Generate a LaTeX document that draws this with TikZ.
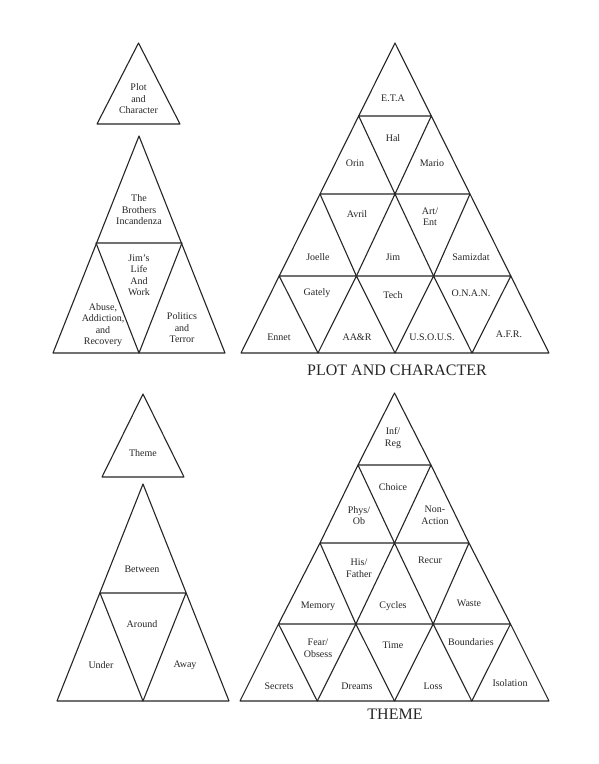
\documentclass[tikz,border=0pt]{standalone}
\usepackage{fontspec}
\setmainfont{Liberation Serif}
\begin{document}
\begin{tikzpicture}[x=1pt,y=-1pt,
  edge/.style={draw=black!85,line width=1.1pt,line join=round},
  lbl/.style={font=\fontsize{10}{11.5}\selectfont,align=center,inner sep=0pt,text=black!85},
  title/.style={font=\fontsize{16}{18}\selectfont,inner sep=0pt,text=black!85}]
\useasboundingbox[fill=white] (0,0) rectangle (598,764);

% ---------- left: plot and character ----------
\draw[edge] (138.5,43) -- (180,124) -- (97,124) -- cycle;
\node[lbl] (pc) at (138.5,99) {Plot\\and\\Character};

\coordinate (L1a) at (139,136);
\coordinate (L1b) at (96,243);
\coordinate (L1c) at (182,243);
\coordinate (L1d) at (53,353);
\coordinate (L1e) at (139,353);
\coordinate (L1f) at (225,353);
\draw[edge] (L1a) -- (L1f) -- (L1d) -- cycle;
\draw[edge] (L1b) -- (L1c) -- (L1e) -- cycle;
\node[lbl] (bro) at (139,210) {The\\Brothers\\Incandenza};
\node[lbl] (jim) at (139,275) {Jim's\\Life\\And\\Work};
\node[lbl] (abu) at (103,325) {Abuse,\\Addiction,\\and\\Recovery};
\node[lbl] (pol) at (182,328) {Politics\\and\\Terror};

% ---------- left: theme ----------
\draw[edge] (143,394) -- (184,477) -- (102,477) -- cycle;
\node[lbl] (th) at (143,453) {Theme};

\coordinate (L2a) at (143,484);
\coordinate (L2b) at (100,593);
\coordinate (L2c) at (186,593);
\coordinate (L2d) at (57,701);
\coordinate (L2e) at (143,701);
\coordinate (L2f) at (229,701);
\draw[edge] (L2a) -- (L2f) -- (L2d) -- cycle;
\draw[edge] (L2b) -- (L2c) -- (L2e) -- cycle;
\node[lbl] (bet) at (142,569) {Between};
\node[lbl] (aro) at (142,624) {Around};
\node[lbl] (und) at (101,665) {Under};
\node[lbl] (awa) at (185,665) {Away};

% ---------- right: plot and character lattice ----------
\foreach \r/\y/\h in {0/43/0,1/116/36.3,2/194/75,3/276/115.8,4/353/154}{
  \foreach \i in {0,...,\r}{
    \pgfmathsetmacro\xx{395-\h+\i*2*\h/max(\r,1)}
    \coordinate (A-\r-\i) at (\xx,\y);
  }
}
\foreach \r in {1,...,4}{
  \pgfmathtruncatemacro\rp{\r-1}
  \foreach \i in {0,...,\rp}{
    \pgfmathtruncatemacro\ip{\i+1}
    \draw[edge] (A-\rp-\i) -- (A-\r-\i) -- (A-\r-\ip) -- cycle;
  }
}
\node[lbl] (eta) at (393,98) {E.T.A};
\node[lbl] (hal) at (393,138) {Hal};
\node[lbl] (ori) at (355,163) {Orin};
\node[lbl] (mar) at (432,163) {Mario};
\node[lbl] (avr) at (357,214) {Avril};
\node[lbl] (art) at (430,216.5) {Art/\\Ent};
\node[lbl] (joe) at (318,257) {Joelle};
\node[lbl] (jm) at (393,257) {Jim};
\node[lbl] (sam) at (471,257) {Samizdat};
\node[lbl] (gat) at (317,293) {Gately};
\node[lbl] (tec) at (393,295) {Tech};
\node[lbl] (ona) at (471,293) {O.N.A.N.};
\node[lbl] (enn) at (279,337) {Ennet};
\node[lbl] (aar) at (357,337) {AA\&R};
\node[lbl] (uso) at (432,337) {U.S.O.U.S.};
\node[lbl] (afr) at (509,334) {A.F.R.};
\node[title] (ptitle) at (397,370) {PLOT AND CHARACTER};

% ---------- right: theme lattice ----------
\foreach \r/\y/\h in {0/393/0,1/465/36.5,2/543/74.5,3/624/116,4/701/154.5}{
  \foreach \i in {0,...,\r}{
    \pgfmathsetmacro\xx{394.5-\h+\i*2*\h/max(\r,1)}
    \coordinate (B-\r-\i) at (\xx,\y);
  }
}
\foreach \r in {1,...,4}{
  \pgfmathtruncatemacro\rp{\r-1}
  \foreach \i in {0,...,\rp}{
    \pgfmathtruncatemacro\ip{\i+1}
    \draw[edge] (B-\rp-\i) -- (B-\r-\i) -- (B-\r-\ip) -- cycle;
  }
}
\node[lbl] (inf) at (393,438) {Inf/\\Reg};
\node[lbl] (cho) at (393,487) {Choice};
\node[lbl] (phy) at (359,515.5) {Phys/\\Ob};
\node[lbl] (non) at (435,515.5) {Non-\\Action};
\node[lbl] (his) at (359,568) {His/\\Father};
\node[lbl] (rec) at (430,560) {Recur};
\node[lbl] (mem) at (318,606) {Memory};
\node[lbl] (cyc) at (393,606) {Cycles};
\node[lbl] (was) at (469,603) {Waste};
\node[lbl] (fea) at (318,648) {Fear/\\Obsess};
\node[lbl] (tim) at (393,645) {Time};
\node[lbl] (bou) at (471,642) {Boundaries};
\node[lbl] (sec) at (279,686) {Secrets};
\node[lbl] (dre) at (357,686) {Dreams};
\node[lbl] (los) at (433,686) {Loss};
\node[lbl] (iso) at (510,683) {Isolation};
\node[title] (ttitle) at (395,714) {THEME};
\end{tikzpicture}
\end{document}
